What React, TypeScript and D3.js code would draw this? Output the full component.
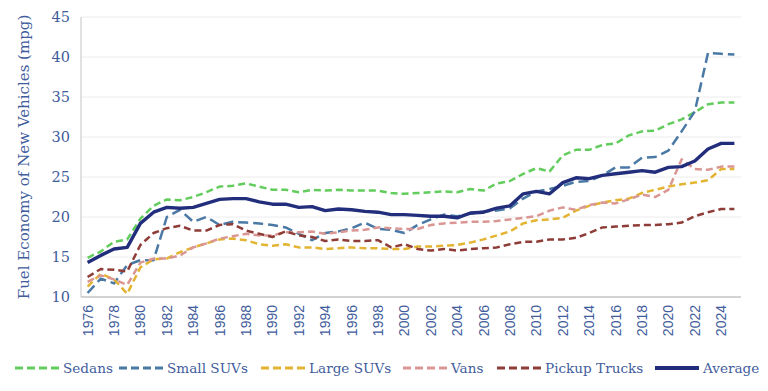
import * as d3 from "d3";

// model years 1976..2025
const years = d3.range(1976, 2026);

const sedans = [
  14.9, 15.7, 16.9, 17.2, 19.8, 21.4, 22.2, 22.1, 22.5, 23.1,
  23.8, 23.9, 24.2, 23.8, 23.4, 23.4, 23.1, 23.4, 23.3, 23.4,
  23.3, 23.3, 23.3, 23.0, 22.9, 23.0, 23.1, 23.2, 23.1, 23.5,
  23.3, 24.2, 24.5, 25.4, 26.1, 25.7, 27.7, 28.4, 28.4, 29.0,
  29.2, 30.2, 30.7, 30.8, 31.6, 32.2, 33.1, 34.1, 34.3, 34.3,
];
const smallSuvs = [
  10.5, 12.3, 11.7, 14.0, 14.6, 14.6, 20.0, 20.9, 19.4, 20.0,
  19.0, 19.4, 19.3, 19.2, 19.0, 18.7, 17.9, 17.1, 18.0, 18.2,
  18.6, 19.3, 18.5, 18.4, 18.0, 19.0, 19.7, 20.3, 20.1, 20.4,
  20.7, 20.8, 21.1, 22.3, 23.2, 23.5, 23.9, 24.4, 24.5, 25.2,
  26.2, 26.2, 27.4, 27.5, 28.3, 30.7, 33.2, 40.5, 40.4, 40.3,
];
const largeSuvs = [
  11.3, 12.9, 12.2, 10.4, 13.7, 14.7, 14.8, 15.6, 16.2, 16.7,
  17.2, 17.3, 17.1, 16.6, 16.4, 16.6, 16.2, 16.2, 16.0, 16.1,
  16.2, 16.1, 16.1, 16.0, 16.0, 16.3, 16.3, 16.4, 16.5, 16.8,
  17.2, 17.7, 18.2, 19.2, 19.6, 19.7, 19.9, 20.8, 21.4, 21.8,
  22.1, 22.3, 23.0, 23.4, 23.8, 24.1, 24.3, 24.6, 26.0, 26.0,
];
const vans = [
  11.9, 12.7, 12.2, 11.5, 14.3, 14.8, 14.8, 15.2, 16.2, 16.7,
  17.3, 17.6, 17.9, 17.7, 17.7, 18.1, 18.1, 18.2, 17.9, 18.1,
  18.3, 18.4, 18.7, 18.6, 18.5, 18.5, 19.0, 19.2, 19.3, 19.4,
  19.4, 19.5, 19.7, 19.9, 20.1, 20.8, 21.2, 20.9, 21.5, 21.8,
  21.7, 22.2, 22.8, 22.5, 23.4, 27.2, 26.0, 25.9, 26.3, 26.3,
];
const pickups = [
  12.5, 13.5, 13.4, 13.2, 16.5, 18.0, 18.6, 18.9, 18.3, 18.3,
  19.0, 19.1, 18.3, 17.9, 17.5, 18.2, 17.7, 17.5, 17.0, 17.2,
  17.0, 17.0, 17.1, 16.2, 16.6, 16.0, 15.8, 16.0, 15.8, 16.0,
  16.1, 16.2, 16.6, 16.9, 16.9, 17.2, 17.2, 17.4, 18.0, 18.7,
  18.8, 18.9, 19.0, 19.0, 19.1, 19.3, 20.1, 20.6, 21.0, 21.0,
];
const average = [
  14.3, 15.2, 16.0, 16.2, 19.2, 20.6, 21.2, 21.1, 21.2, 21.7,
  22.2, 22.3, 22.3, 21.9, 21.6, 21.6, 21.2, 21.3, 20.8, 21.0,
  20.9, 20.7, 20.6, 20.3, 20.3, 20.2, 20.1, 20.1, 19.9, 20.5,
  20.6, 21.1, 21.4, 22.9, 23.2, 22.9, 24.3, 24.9, 24.8, 25.2,
  25.4, 25.6, 25.8, 25.6, 26.2, 26.3, 27.0, 28.5, 29.2, 29.2,
];

const yTicks = [10, 15, 20, 25, 30, 35, 40, 45];
const xTickYears = years.filter((y) => (y - 1976) % 2 === 0 && y <= 2024);

type Series = {
  name: string;
  values: number[];
  color: string;
  dash: string | null;
  width: number;
};

const series: Series[] = [
  { name: "Sedans", values: sedans, color: "#62cc5c", dash: "7,4", width: 2.5 },
  { name: "Small SUVs", values: smallSuvs, color: "#4a79a5", dash: "10,5", width: 2.5 },
  { name: "Large SUVs", values: largeSuvs, color: "#e2b431", dash: "7,4", width: 2.5 },
  { name: "Vans", values: vans, color: "#d99693", dash: "7,4", width: 2.5 },
  { name: "Pickup Trucks", values: pickups, color: "#8e3c37", dash: "7,4", width: 2.5 },
  { name: "Average", values: average, color: "#222e7c", dash: null, width: 3.4 },
];

// legend: line start for each entry
const legendX = [15, 119, 261, 403, 497, 655];

const W = 768;
const H = 391;
const margin = { top: 17, right: 27, bottom: 94, left: 81 };
const textBlue = "#3f5d9c";
const serif = "'DejaVu Serif', Georgia, serif";
const sans = "'Liberation Sans', Arial, sans-serif";

export default function App() {
  const x = d3
    .scaleBand<number>()
    .domain(years)
    .range([margin.left, W - margin.right])
    .paddingInner(0)
    .paddingOuter(0);
  const cx = (yr: number) => (x(yr) ?? 0) + x.bandwidth() / 2;

  const y = d3
    .scaleLinear()
    .domain([10, 45])
    .range([H - margin.bottom, margin.top]);

  const line = d3
    .line<number>()
    .x((_, i) => cx(years[i]))
    .y((d) => y(d));

  const plotRight = W - margin.right;
  const plotBottom = y(10);

  return (
    <svg
      width={W}
      height={H}
      style={{ position: "absolute", left: 0, top: 0, display: "block", background: "#fff" }}
    >
      {/* gridlines */}
      {yTicks
        .filter((t) => t > 10)
        .map((t) => (
          <line
            key={t}
            x1={margin.left}
            x2={plotRight}
            y1={y(t)}
            y2={y(t)}
            stroke="#ececec"
            strokeWidth={1}
          />
        ))}

      {/* axes */}
      <line x1={margin.left} x2={margin.left} y1={y(45)} y2={plotBottom} stroke="#c4c4c4" strokeWidth={1} />
      <line x1={margin.left} x2={plotRight} y1={plotBottom} y2={plotBottom} stroke="#c4c4c4" strokeWidth={1.6} />

      {yTicks.map((t) => (
        <text
          key={t}
          x={70}
          y={y(t)}
          dy="0.35em"
          textAnchor="end"
          fontFamily={serif}
          fontSize={14.5}
          fill={textBlue}
        >
          {t}
        </text>
      ))}

      {xTickYears.map((yr) => (
        <text
          key={yr}
          transform={`translate(${cx(yr)},${plotBottom + 8}) rotate(-90)`}
          dy="0.35em"
          textAnchor="end"
          fontFamily={sans}
          fontSize={14}
          fill={textBlue}
        >
          {yr}
        </text>
      ))}

      <text
        transform={`translate(24,${(y(45) + plotBottom) / 2}) rotate(-90)`}
        textAnchor="middle"
        dy="0.35em"
        fontFamily={serif}
        fontSize={15}
        fill={textBlue}
      >
        Fuel Economy of New Vehicles (mpg)
      </text>

      {/* series lines */}
      {series.map((s) => (
        <path
          key={s.name}
          d={line(s.values) ?? ""}
          fill="none"
          stroke={s.color}
          strokeWidth={s.width}
          strokeDasharray={s.dash ?? undefined}
          strokeLinejoin="round"
        />
      ))}

      {/* legend */}
      {series.map((s, i) => (
        <g key={s.name} transform={`translate(${legendX[i]},368)`}>
          <line
            x1={0}
            x2={44}
            y1={0}
            y2={0}
            stroke={s.color}
            strokeWidth={s.dash ? 2.8 : 3.8}
            strokeDasharray={s.dash ? "8,4" : undefined}
          />
          <text x={48} dy="0.35em" fontFamily={serif} fontSize={13.6} fill={textBlue}>
            {s.name}
          </text>
        </g>
      ))}
    </svg>
  );
}
